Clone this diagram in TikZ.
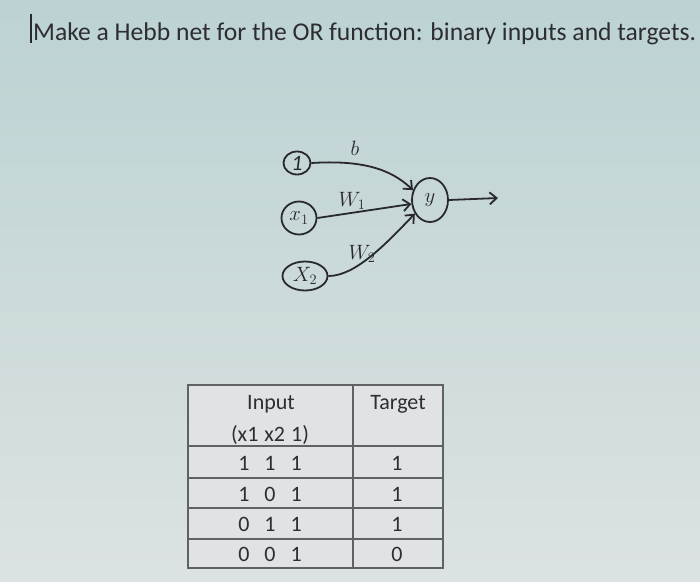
\documentclass[tikz,border=0pt]{standalone}
\usepackage{fontspec}
\setmainfont{Carlito}
\usetikzlibrary{arrows.meta,shapes.geometric}
\definecolor{bgtop}{RGB}{188,210,211}
\definecolor{bgbot}{RGB}{220,226,226}
\definecolor{ink}{RGB}{40,40,45}
\definecolor{tabfill}{RGB}{224,227,227}
\definecolor{tabline}{RGB}{95,98,100}
\definecolor{txt}{RGB}{45,45,50}
\tikzset{
  neuron/.style={draw=ink, line width=1.8pt, ellipse, inner sep=0pt, font=\fontsize{22}{22}\selectfont, text=ink},
  wire/.style={draw=ink, line width=1.8pt, -{Straight Barb[length=7pt,width=12pt]}},
  wlabel/.style={font=\fontsize{20}{20}\selectfont, text=ink},
  cell/.style={font=\fontsize{22}{22}\selectfont, text=txt},
  tline/.style={draw=tabline, line width=1.3pt}
}
\begin{document}
\begin{tikzpicture}[x=1pt,y=-1pt]
\useasboundingbox (0,0) rectangle (700,581);
\shade[top color=bgtop, bottom color=bgbot] (0,0) rectangle (700,581);
% title
\draw[ink, line width=1.2pt] (31,14) -- (31,43);
\node[anchor=base west, font=\fontsize{25.6}{25.6}\selectfont, text=txt, inner sep=0pt] (title) at (33,40) {Make a Hebb net for the OR function: binary inputs and targets.};
% network
\node[neuron, minimum width=27pt, minimum height=23pt] (one) at (297,163) {\textit{1}};
\node[neuron, minimum width=35pt, minimum height=33pt] (x1) at (299,218) {$x_1$};
\node[neuron, minimum width=45pt, minimum height=29pt] (x2) at (305,276) {$X_2$};
\node[neuron, minimum width=36pt, minimum height=44pt] (y) at (430,200) {$y$};
\coordinate (out) at (498,198);
\draw[wire] (one.east) .. controls (360,160) and (390,168) .. (y.150);
\draw[wire] (x1.east) -- (y.192);
\draw[wire] (x2.east) .. controls (355,276) and (385,245) .. (y.222);
\draw[wire] (y.east) -- (out);
\node[wlabel] (lb) at (355,148) {$b$};
\node[wlabel] (lw1) at (352,201) {$W_1$};
\node[wlabel] (lw2) at (362,254) {$W_2$};
% table
\fill[tabfill] (188,385) rectangle (443,568);
\draw[tline] (188,385) rectangle (443,568);
\draw[tline] (353,385) -- (353,568);
\draw[tline] (188,446) -- (443,446);
\draw[tline] (188,478) -- (443,478);
\draw[tline] (188,508) -- (443,508);
\draw[tline] (188,539) -- (443,539);
\node[cell] (hin) at (271,404) {Input};
\node[cell] (hx) at (270,435) {(x1\hspace{6pt}x2\hspace{6pt}1)};
\node[cell] (ht) at (398,404) {Target};
\node[cell] (r1) at (270,463) {1\hspace{15pt}1\hspace{15pt}1};
\node[cell] (r2) at (270,494) {1\hspace{15pt}0\hspace{15pt}1};
\node[cell] (r3) at (270,524) {0\hspace{15pt}1\hspace{15pt}1};
\node[cell] (r4) at (270,554) {0\hspace{15pt}0\hspace{15pt}1};
\node[cell] (t1) at (397,463) {1};
\node[cell] (t2) at (397,494) {1};
\node[cell] (t3) at (397,524) {1};
\node[cell] (t4) at (397,554) {0};
\end{tikzpicture}
\end{document}
